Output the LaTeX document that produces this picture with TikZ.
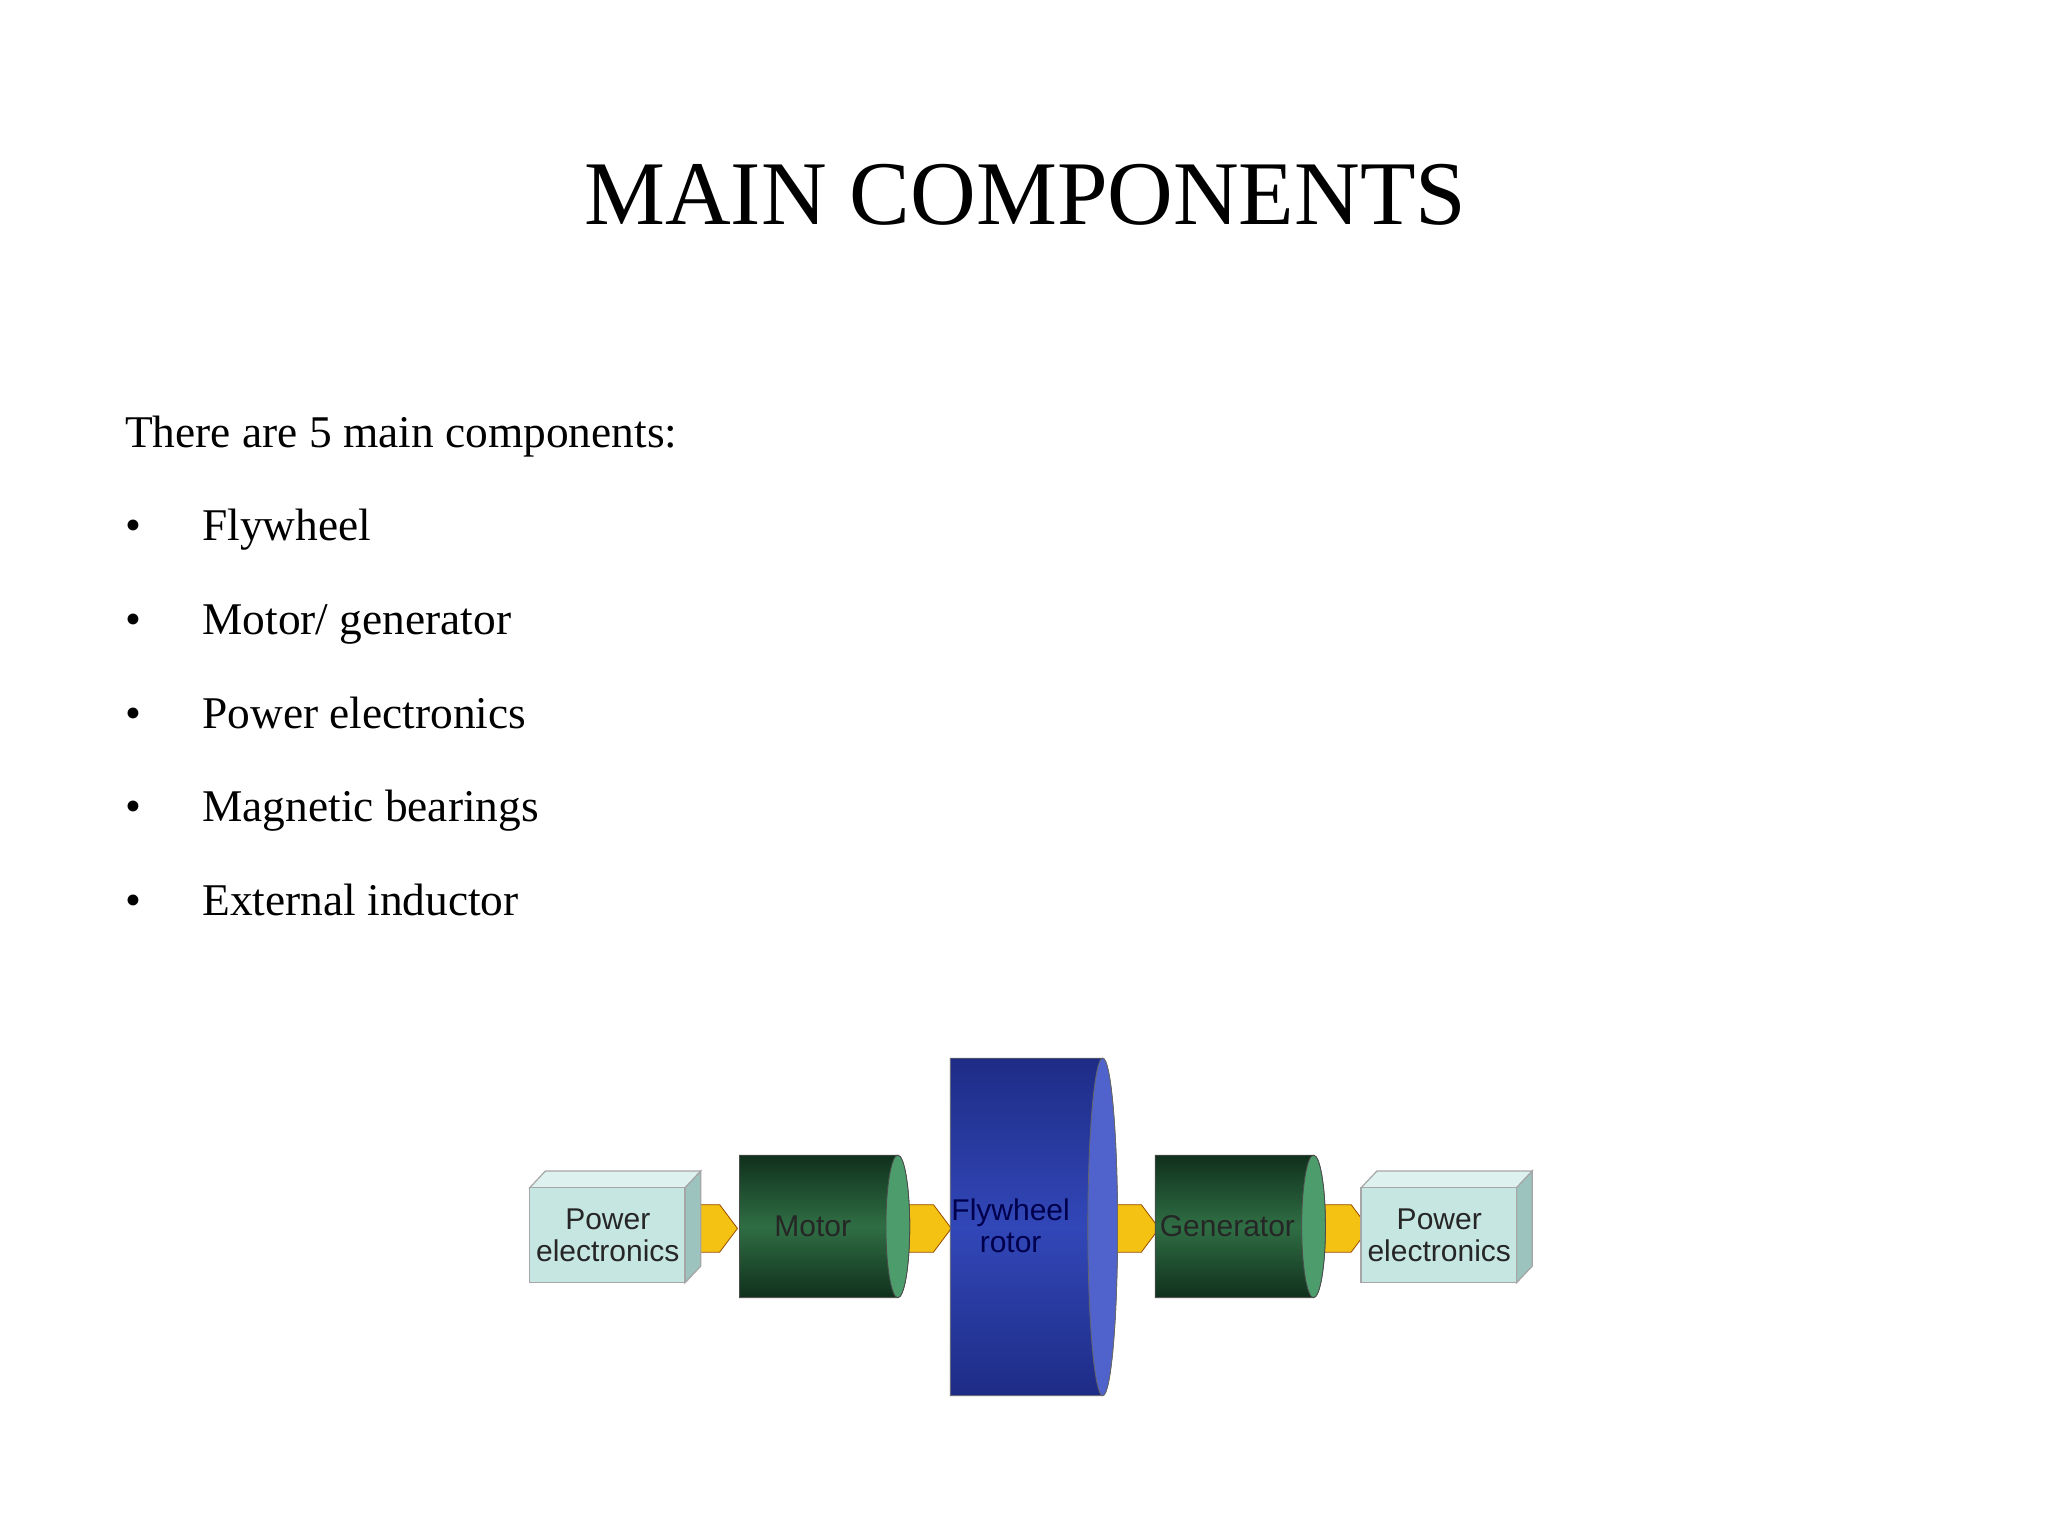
\documentclass[tikz,border=0pt]{standalone}
\usepackage{fontspec}
\setmainfont{Liberation Serif}
\newfontfamily\diagfont{Liberation Sans}
\definecolor{boxfront}{HTML}{C6E6E1}
\definecolor{boxtop}{HTML}{DDF1EE}
\definecolor{boxside}{HTML}{9CC3BE}
\definecolor{cyldark}{HTML}{10301C}
\definecolor{cylmid}{HTML}{2F6E44}
\definecolor{cylface}{HTML}{4C9C6C}
\definecolor{fwdark}{HTML}{1E2C86}
\definecolor{fwmid}{HTML}{3247B8}
\definecolor{fwface}{HTML}{5062CC}
\definecolor{gold}{HTML}{F3C212}
\begin{document}
\begin{tikzpicture}[x=0.495pt,y=-0.495pt,
  txt/.style={anchor=base west,inner sep=0pt,font=\fontsize{22.7}{28}\selectfont},
  dtxt/.style={font=\diagfont\fontsize{15}{16}\selectfont,text=black!85,align=center,inner sep=0pt},
  arr/.style={fill=gold,draw=orange!60!black,line width=0.4pt},
  face/.style={draw=gray!70,line width=0.6pt}]
\useasboundingbox (0,0) rectangle (2069,1551);
\fill[white] (0,0) rectangle (2069,1551);
\node[inner sep=0pt,font=\fontsize{45.5}{50}\selectfont] (title) at (1036,197) {MAIN COMPONENTS};
\node[txt] (intro) at (126,452) {There are 5 main components:};
\foreach \t [count=\i] in {Flywheel,Motor/ generator,Power electronics,Magnetic bearings,External inductor}{
  \node[txt] (b\i) at (126,{452+\i*94.5}) {•};
  \node[txt] (t\i) at (204,{452+\i*94.5}) {\t};
}
% arrows
\foreach \x [count=\i] in {693,909,1119,1331}{
  \draw[arr] (\x,1217) -- ({\x+34},1217) -- ({\x+52},1241) -- ({\x+34},1265) -- (\x,1265) -- cycle;
  \coordinate (a\i) at ({\x+26},1241);
}
% boxes
\foreach \x/\n in {535/pl,1375/pr}{
  \fill[face,fill=boxtop] (\x,1200) -- ({\x+16},1183) -- ({\x+173},1183) -- ({\x+157},1200) -- cycle;
  \fill[face,fill=boxside] ({\x+157},1200) -- ({\x+173},1183) -- ({\x+173},1279) -- ({\x+157},1296) -- cycle;
  \fill[face,fill=boxfront] (\x,1200) rectangle ({\x+157},1296);
  \node[dtxt] (\n) at ({\x+79},1248) {Power\\electronics};
}
% cylinders
\foreach \x/\w in {747/160,1167/160}{
  \shade[top color=cyldark,bottom color=cyldark,middle color=cylmid,draw=black!70]
    (\x,1167) -- ({\x+\w},1167) arc[x radius=12,y radius=72,start angle=-90,end angle=90] -- (\x,1311) -- cycle;
  \fill[draw=black!70,fill=cylface] ({\x+\w},1239) ellipse[x radius=12,y radius=72];
}
\node[dtxt] (motor) at (821,1239) {Motor};
\node[dtxt] (gen) at (1240,1239) {Generator};
% flywheel
\shade[top color=fwdark,bottom color=fwdark,middle color=fwmid,draw=black!60]
  (960,1069) -- (1114,1069) arc[x radius=15,y radius=170.5,start angle=-90,end angle=90] -- (960,1410) -- cycle;
\fill[draw=black!60,fill=fwface] (1114,1239.5) ellipse[x radius=15,y radius=170.5];
\node[dtxt,text=blue!30!black] (fly) at (1021,1238) {Flywheel\\rotor};
\end{tikzpicture}
\end{document}
